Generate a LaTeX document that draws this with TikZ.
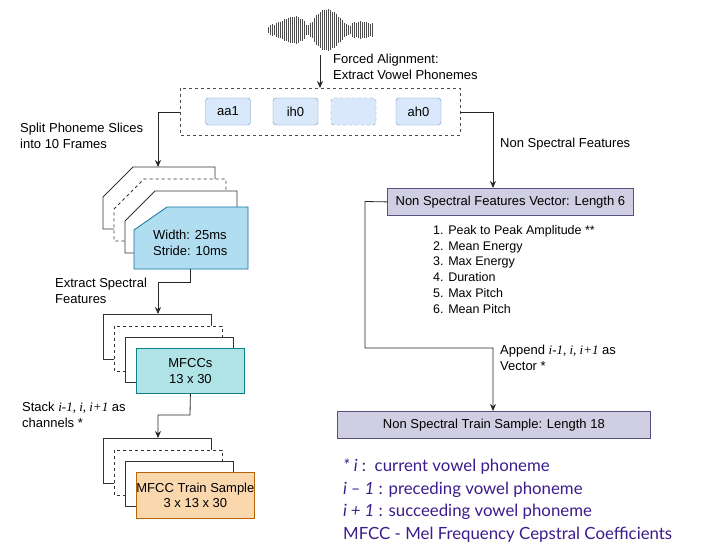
\documentclass[tikz,border=0pt]{standalone}
\usepackage{fontspec}
\setmainfont{Liberation Sans}
\newfontfamily\legfont{Lato}
\newfontfamily\serifit{Liberation Serif}
\newcommand\mi[1]{{\serifit\itshape #1}}
\usetikzlibrary{arrows.meta}
\definecolor{pb}{HTML}{DAE8FC}\definecolor{pbd}{HTML}{6C8EBF}
\definecolor{fb}{HTML}{B1DDF0}\definecolor{fbd}{HTML}{10739E}
\definecolor{mb}{HTML}{B0E3E6}\definecolor{mbd}{HTML}{0E8088}
\definecolor{ob}{HTML}{FAD7AC}\definecolor{obd}{HTML}{B46504}
\definecolor{vb}{HTML}{D0CEE2}\definecolor{vbd}{HTML}{56517E}
\definecolor{leg}{HTML}{3B1C8C}
\begin{document}
\begin{tikzpicture}[x=1pt,y=-1pt,
  every node/.style={font=\fontsize{13}{15.5}\selectfont},
  txt/.style={align=left,inner sep=0pt,anchor=north west},
  ph/.style={draw=pbd,fill=pb,rounded corners=3pt,minimum width=45pt,minimum height=27pt},
  vec/.style={draw=vbd,fill=vb,line width=0.8pt,inner sep=0pt},
  lay/.style={draw=black!80,fill=white,line width=0.8pt},
  arr/.style={-{Stealth[length=7pt,width=6pt]},line width=0.8pt,black!85}]
\useasboundingbox (0,0) rectangle (705,560);
% waveform
\foreach \i in {0,...,52}{
  \pgfmathsetmacro\xx{268+2*\i}
  \pgfmathsetmacro\hh{3+17*abs(sin(\i*9))*exp(-((\i-26)/18)^2)+2*abs(sin(\i*57))}
  \draw[black!70,line width=1pt] (\xx,30-\hh) -- (\xx,30+\hh);
}
\coordinate (wav) at (320,55);
% phoneme container
\draw[dashed,line width=0.8pt,black!70] (180,88) rectangle (460,135);
\coordinate (boxtop) at (320,88);
\coordinate (boxL) at (180,112);
\coordinate (boxR) at (460,112);
\node[ph] (aa) at (228,111.5) {aa1};
\node[ph] (ih) at (295.5,111.5) {ih0};
\node[ph,dashed] (em) at (353.5,111.5) {};
\node[ph] (ah) at (418.5,111.5) {ah0};
\draw[arr] (wav) -- (boxtop);
\node[txt] (fa) at (333,54) {Forced Alignment:\\Extract Vowel Phonemes};
% frames stack
\foreach \ox/\oy/\st in {103/167/solid,114/179/dashed,125/191/solid}{
  \draw[lay,\st] (\ox,\oy+30) -- (\ox+30,\oy) -- (\ox+112,\oy) -- (\ox+112,\oy+62) -- (\ox,\oy+62) -- cycle;}
\draw[draw=fbd,fill=fb,line width=0.8pt] (134,230) -- (167,207) -- (248,207) -- (248,269) -- (134,269) -- cycle;
\node[txt] (wd) at (153,230) {Width: 25ms\\Stride: 10ms};
\coordinate (frtop) at (158,167);
\coordinate (frbot) at (190,269);
\draw[arr] (boxL) -- (158,112) -- (frtop);
\node[txt] (sp) at (20,123) {Split Phoneme Slices\\into 10 Frames};
% MFCC stack
\foreach \ox/\oy/\st in {103/314/solid,114/326/dashed,125/337/solid}{
  \draw[lay,\st] (\ox,\oy) rectangle (\ox+108,\oy+45);}
\node[draw=mbd,fill=mb,line width=0.8pt,minimum width=108pt,minimum height=45pt,anchor=north west,align=center] (mf) at (136,348) {MFCCs\\13 x 30};
\draw[arr] (frbot) -- (190,282) -- (158,282) -- (158,314);
\node[txt] (es) at (55,278) {Extract Spectral\\Features};
% train stack
\foreach \ox/\oy/\st in {103/438/solid,114/450/dashed,125/461/solid}{
  \draw[lay,\st] (\ox,\oy) rectangle (\ox+108,\oy+45);}
\node[draw=obd,fill=ob,line width=0.8pt,minimum width=115pt,minimum height=46pt,anchor=north west,align=center,inner sep=0pt] (tr) at (136,472) {MFCC Train Sample\\3 x 13 x 30};
\draw[arr] (mf.south) -- (190,415) -- (158,415) -- (158,438);
\node[txt] (st) at (22,402) {Stack \mi{i-1, i, i+1} as\\channels *};
% right side
\node[vec,minimum width=246pt,minimum height=27pt,anchor=north west] (nsv) at (387,188) {Non Spectral Features Vector: Length 6};
\draw[arr] (boxR) -- (493,112) -- (493,188);
\node[txt] (nsf) at (500,138) {Non Spectral Features};
\node[txt,font=\fontsize{12.5}{15.8}\selectfont] (lst) at (433,225) {1. Peak to Peak Amplitude **\\2. Mean Energy\\3. Max Energy\\4. Duration\\5. Max Pitch\\6. Mean Pitch};
\node[vec,minimum width=313pt,minimum height=27pt,anchor=north west] (nst) at (337,411) {Non Spectral Train Sample: Length 18};
\draw[arr] (nsv.west) -- (365,201.5) -- (365,348) -- (493,348) -- (493,411);
\node[txt] (ap) at (500,345) {Append \mi{i-1, i, i+1} as\\Vector *};
% legend
\node[txt,text=leg,font=\legfont\fontsize{16.8}{22.5}\selectfont] (lg) at (343,459) {\textit{* i} :\ \ current vowel phoneme\\\textit{i \textendash\ 1} : preceding vowel phoneme\\\textit{i + 1} : succeeding vowel phoneme\\MFCC - Mel Frequency Cepstral Coefficients};
\end{tikzpicture}
\end{document}
